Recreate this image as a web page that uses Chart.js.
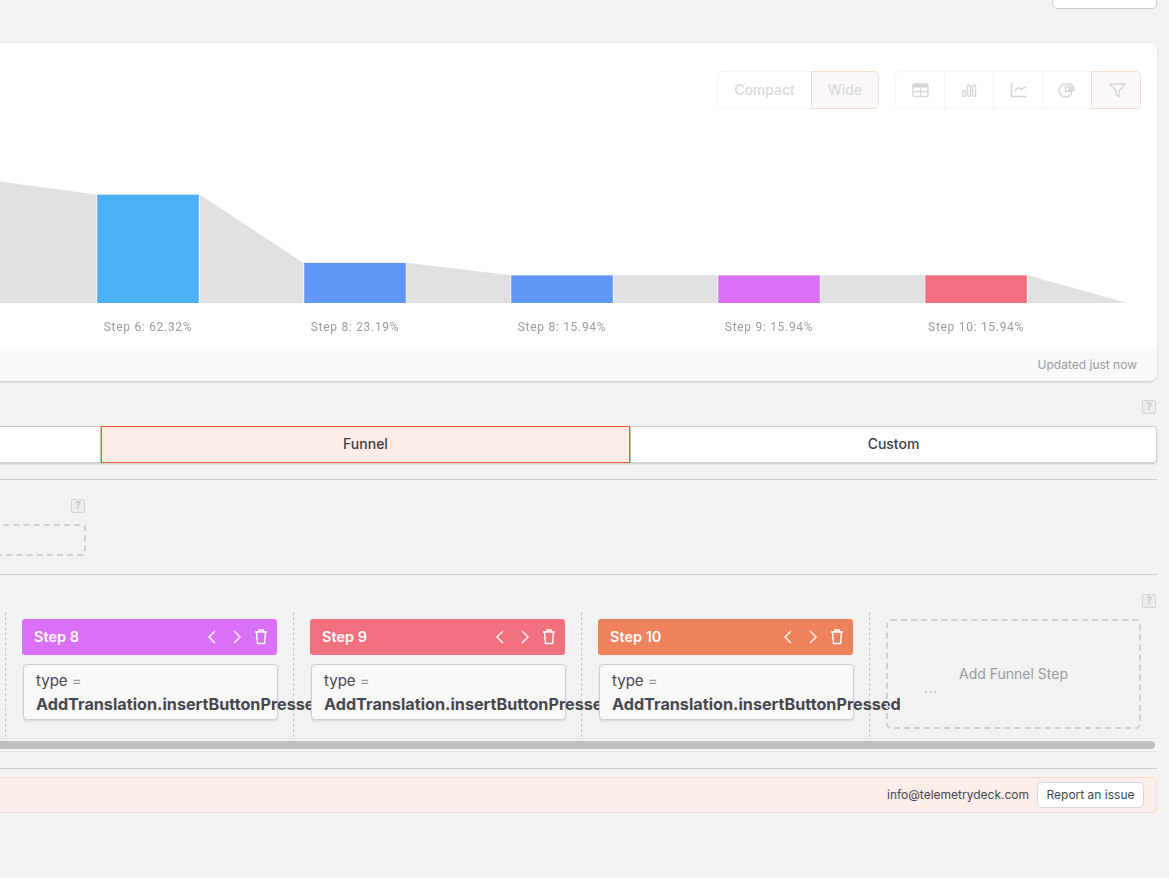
<!DOCTYPE html>
<html>
<head>
<meta charset="utf-8">
<title>Funnel</title>
<script src="https://cdn.jsdelivr.net/npm/chart.js@4/dist/chart.umd.js"></script>
<style>
html, body { margin: 0; padding: 0; width: 1169px; height: 878px; overflow: hidden; background: #f2f2f2; font-family: Inter, sans-serif; color: #46464f; }
.abs { position: absolute; box-sizing: border-box; }
.rule { position: absolute; left: 0; width: 1157px; height: 1px; background: #cfcfcf; }
.card { left: -20px; top: 43px; width: 1177px; height: 338px; background: #fff; border-radius: 8px; box-shadow: 0 1px 2px rgba(0,0,0,.18); overflow: hidden; }
.card-foot { left: 0; top: 306px; width: 1177px; height: 32px; background: #f9f9f9; }
#chartbox { position: absolute; left: 0; top: 43px; width: 1157px; height: 306px; }
.updated { right: 32px; top: 358px; font-size: 12px; color: #9b9ba1; position: absolute; line-height: 14px; }
.seg { top: 426px; height: 37px; font-size: 14px; font-weight: 500; text-align: center; line-height: 33px; background: #fff; color: #3d3d46; border: 1px solid #cfcfcf; box-shadow: 0 1px 2px rgba(0,0,0,.18); }
.btn { top: 71px; height: 38px; border: 1px solid #f4f4f4; background: #fff; font-size: 14px; font-weight: 500; color: #d9d9dc; text-align: center; line-height: 36px; }
.btn.on { border-color: #fbdcd0; background: #fdf9f8; }
.help { width: 14px; height: 14px; border: 1.5px solid #d4d4d4; border-radius: 2px; font-size: 10px; font-weight: 700; color: #c8c8c8; text-align: center; line-height: 11px; background: #ececec; }
.vdash { position: absolute; top: 612px; width: 0; height: 125px; border-left: 1px dashed #c8c8c8; }
.step-h { top: 619px; width: 255px; height: 36px; border-radius: 3px; color: #fff; font-size: 14.5px; font-weight: 600; line-height: 36px; padding-left: 12px; }
.step-h svg { position: absolute; top: 9px; }
.step-b { top: 664px; width: 255px; height: 56px; background: #f9f9f9; border: 1px solid #cfcfcf; border-radius: 4px; box-shadow: 0 1px 2px rgba(0,0,0,.12); }
.step-b .t1 { position: absolute; left: 12px; top: 6px; font-size: 15px; line-height: 20px; white-space: nowrap; }
.step-b .t1 span { color: #9b9ba1; }
.step-b .t2 { position: absolute; left: 12px; top: 29px; font-size: 16.2px; font-weight: 700; line-height: 21px; white-space: nowrap; }
</style>
</head>
<body>

<div class="abs" style="left:1052px;top:-10px;width:105px;height:19px;background:#fff;border:1px solid #cfcfcf;border-radius:5px"></div>

<div class="abs card"><div class="abs card-foot"></div></div>
<div id="chartbox"><canvas id="graph"></canvas></div>
<div class="updated">Updated just now</div>

<div class="abs btn" style="left:717px;width:95px;border-radius:5px 0 0 5px">Compact</div>
<div class="abs btn on" style="left:811px;width:68px;border-radius:0 5px 5px 0">Wide</div>
<div class="abs btn" style="left:895px;width:50px;border-radius:5px 0 0 5px"></div>
<div class="abs btn" style="left:944px;width:50px"></div>
<div class="abs btn" style="left:993px;width:50px"></div>
<div class="abs btn" style="left:1042px;width:50px"></div>
<div class="abs btn on" style="left:1091px;width:50px;border-radius:0 5px 5px 0"></div>
<svg class="abs" style="left:895px;top:71px" width="246" height="38" fill="none" stroke="#d6d6d8" stroke-width="1.5">
  <rect x="18" y="13" width="15" height="12.5" rx="1.5"/><path d="M18 15h15" stroke-width="3"/><path d="M18 20.5h15M25.5 17v8"/>
  <rect x="67.5" y="19.5" width="3" height="6" rx="1.5"/><rect x="72.5" y="14" width="3" height="11.5" rx="1.5"/><rect x="77.5" y="14" width="3" height="11.5" rx="1.5"/>
  <path d="M116.5 12v13.5h15M119.5 20l4-3.5 3 2 4.5-3"/>
  <path d="M170.5 13a6.5 6.5 0 1 0 6.5 7.5h-6.5zM173 12.5a6.5 6.5 0 0 1 5.5 3.5H173zM174 18h5.5v1H174z"/>
  <path d="M215 13h15l-6 7v5.5l-3-2V20z"/>
</svg>

<div class="abs help" style="left:1142px;top:400px">?</div>
<div class="abs seg" style="left:-20px;width:121px"></div>
<div class="abs seg" style="left:101px;width:529px;background:#fcede9;border:1px solid #ec5d35;z-index:2">Funnel</div>
<div class="abs seg" style="left:630px;width:527px;border-radius:0 4px 4px 0">Custom</div>
<div class="rule" style="top:479px"></div>

<div class="abs help" style="left:71px;top:499px">?</div>
<div class="abs" style="left:-20px;top:524px;width:106px;height:32px;border:2px dashed #cfcfcf;border-radius:3px"></div>
<div class="rule" style="top:574px"></div>
<div class="abs help" style="left:1142px;top:594px">?</div>

<div id="steps"></div>

<div class="abs" style="left:886px;top:619px;width:255px;height:110px;border:2px dashed #cfcfcf;border-radius:5px"></div>
<div class="abs" style="left:959px;top:665px;font-size:14px;line-height:18px;color:#9b9ba1">Add Funnel Step</div>
<div class="abs" style="left:924px;top:679px;font-size:14px;line-height:18px;letter-spacing:.5px;color:#b4b4b4">...</div>

<div class="abs" style="left:0;top:738px;width:1157px;height:14px;background:#f5f5f5;border-top:1px solid #e3e3e3;border-bottom:1px solid #e3e3e3"></div>
<div class="abs" style="left:-10px;top:741px;width:1165px;height:8px;background:#bfbfbf;border-radius:4px"></div>
<div class="rule" style="top:768px"></div>

<div class="abs" style="left:-20px;top:777px;width:1177px;height:36px;background:#fbede9;border:1px solid #fadcd2;border-radius:4px"></div>
<div class="abs" style="left:887px;top:787px;font-size:12px;line-height:16px;color:#46464f">info@telemetrydeck.com</div>
<div class="abs" style="left:1037px;top:782px;width:107px;height:26px;background:#fff;border:1px solid #d6d6d6;border-radius:5px;font-size:12px;line-height:24px;text-align:center;color:#46464f">Report an issue</div>

<script>
// funnel chart values
var categories = ["Step 5", "Step 6", "Step 8", "Step 8", "Step 9", "Step 10"]
var values = [70.4, 62.32, 23.19, 15.94, 15.94, 15.94]
var barColors = ["#4cb0f6", "#4cb0f6", "#6096f6", "#6096f6", "#da70f6", "#f2707e"]

// step cards under the chart
var cardTitles = ["Step 8", "Step 9", "Step 10"]
var cardColors = ["#da70f6", "#f1707e", "#ee825c"]
var cardFilter = "AddTranslation.insertButtonPressed"

var html = ""
for (let i = 0; i < 4; i++) {
    html += '<div class="vdash" style="left:' + (5 + i * 288) + 'px"></div>'
}
for (let i = 0; i < cardTitles.length; i++) {
    let left = 22 + i * 288
    html += '<div class="abs step-h" style="left:' + left + 'px;background:' + cardColors[i] + '">' + cardTitles[i]
    html += '<svg style="left:182px" width="16" height="18" fill="none" stroke="#fff" stroke-width="1.4"><path d="M11 3L5 9l6 6"/></svg>'
    html += '<svg style="left:207px" width="16" height="18" fill="none" stroke="#fff" stroke-width="1.4"><path d="M5 3l6 6-6 6"/></svg>'
    html += '<svg style="left:231px" width="16" height="18" fill="none" stroke="#fff" stroke-width="1.4"><path d="M2 4h12M6 4V2h4v2M3.5 4l1 11.5h7l1-11.5"/></svg>'
    html += '</div>'
    html += '<div class="abs step-b" style="left:' + (left + 1) + 'px"><div class="t1">type <span>=</span></div><div class="t2">' + cardFilter + '</div></div>'
}
document.getElementById("steps").innerHTML = html

var barPoints = []
var areaPoints = []
for (let i = 0; i < values.length; i++) {
    barPoints.push({ x: i, y: values[i] })
    areaPoints.push({ x: i - 0.25, y: values[i] })
    areaPoints.push({ x: i + 0.25, y: values[i] })
}
areaPoints.push({ x: values.length - 0.27, y: 0 })

// tick labels in the picture are spaced out a bit
var spacedLabels = {
    id: 'spacedLabels',
    beforeDraw: function (chart) { chart.ctx.letterSpacing = "0.7px" }
}

var ctx = document.getElementById("graph").getContext("2d")
var graph = new Chart(ctx, {
    plugins: [spacedLabels],
    data: {
        datasets: [{
            type: 'bar',
            data: barPoints,
            backgroundColor: barColors,
            borderColor: "#ffffff",
            borderWidth: { left: 1, right: 1, top: 0, bottom: 0 },
            barPercentage: 1,
            categoryPercentage: 0.5,
            order: 1
        }, {
            type: 'line',
            data: areaPoints,
            backgroundColor: "#e0e0e2",
            borderWidth: 0,
            pointRadius: 0,
            tension: 0,
            fill: 'origin',
            order: 2
        }]
    },
    options: {
        responsive: true,
        maintainAspectRatio: false,
        animation: false,
        layout: { padding: { top: 86, left: 0, right: 0, bottom: 0 } },
        plugins: { legend: { display: false }, tooltip: { enabled: false } },
        scales: {
            x: {
                type: 'linear',
                offset: false,
                min: 0.285,
                max: 5.874,
                grid: { display: false, drawTicks: false },
                border: { display: false },
                afterBuildTicks: function (scale) {
                    scale.ticks = scale.ticks.filter(function (t) { return Number.isInteger(t.value) && t.value > 0 })
                },
                afterFit: function (scale) { scale.height = 46 },
                ticks: {
                    stepSize: 1,
                    autoSkip: false,
                    maxRotation: 0,
                    padding: 18,
                    color: "#9b9ba1",
                    font: { family: "Roboto", size: 12 },
                    callback: function (value) {
                        return categories[value] + ": " + values[value].toFixed(2) + "%"
                    }
                }
            },
            y: { display: false, min: 0, max: 100 }
        }
    }
})
</script>
</body>
</html>
